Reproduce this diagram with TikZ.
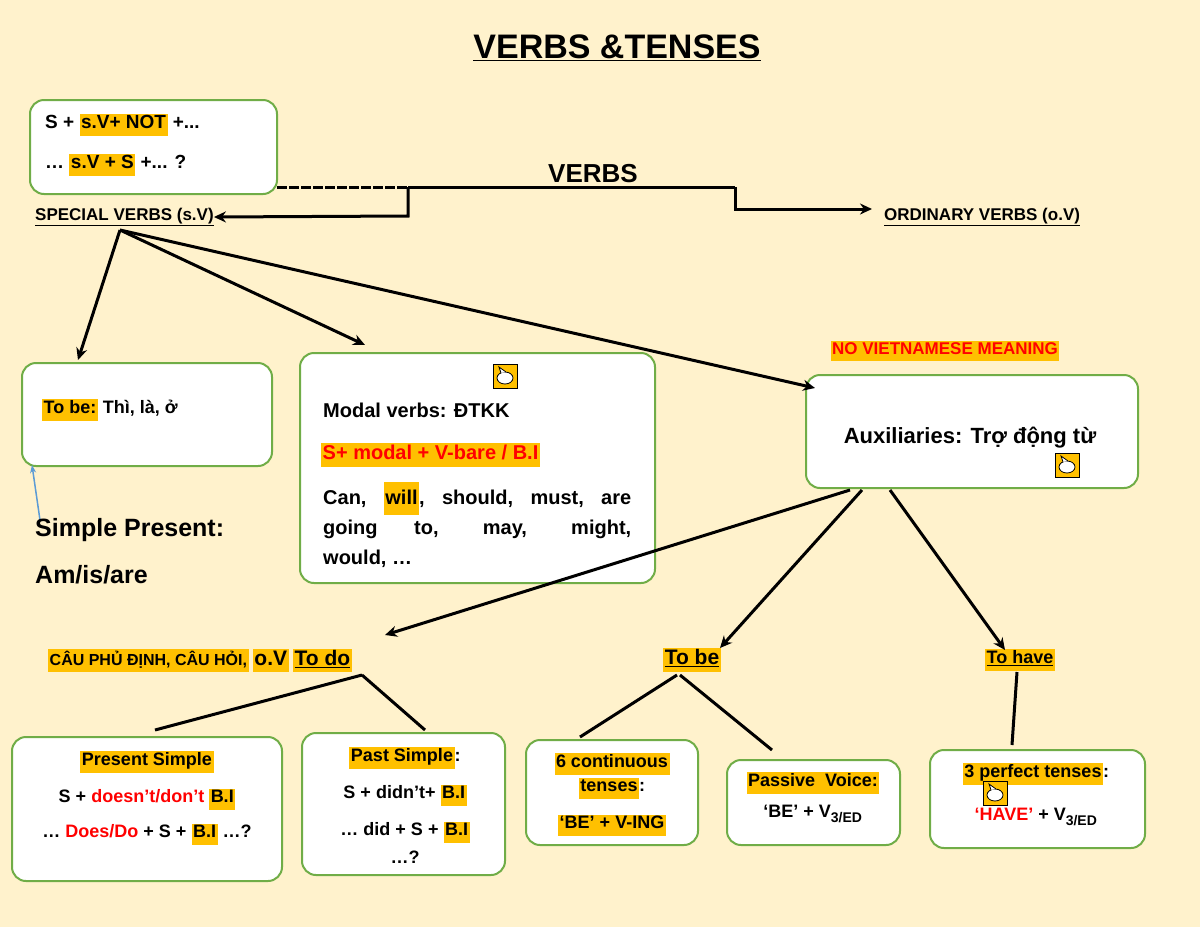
\documentclass[tikz,border=0pt]{standalone}
\usepackage{fontspec}
\setmainfont{Liberation Sans}
\usetikzlibrary{arrows.meta}
\definecolor{bg}{HTML}{FFF2CC}
\definecolor{hl}{HTML}{FFC000}
\definecolor{gb}{HTML}{70AD47}
\definecolor{rd}{HTML}{FF0000}
\definecolor{lb}{HTML}{5B9BD5}
\newcommand\hlt[1]{{\setlength{\fboxsep}{1.5pt}\colorbox{hl}{\strut #1}}}
\newcommand\fs[1]{\fontsize{#1}{#1}\selectfont}
\tikzset{
 box/.style={draw=gb,line width=2pt,fill=white,rounded corners=14pt},
 ln/.style={line width=3pt},
 arr/.style={line width=3pt,-{Stealth[length=12pt,width=11pt]}},
 txt/.style={inner sep=0pt,font=\bfseries\fs{18}},
 icon/.pic={\draw[fill=hl,line width=0.8pt] (-12,-12) rectangle (12,12);
  \draw[fill=white,line width=0.8pt] (0,2) ellipse (8pt and 6pt);
  \draw[fill=white,line width=0.8pt] (-4,-3)--(-6,-9)--(1,-4);}
}
\begin{document}
\begin{tikzpicture}[x=1pt,y=-1pt]
\fill[bg] (0,0) rectangle (1200,927);
\useasboundingbox (0,0) rectangle (1200,927);
\node[txt,font=\bfseries\fs{34}] (title) at (617,48) {\underline{VERBS \&TENSES}};
% top box
\draw[box] (30,100) rectangle (277,194);
\node[txt,anchor=west,font=\bfseries\fs{19}] (b1a) at (45,125) {S + \hlt{s.V+ NOT} +...};
\node[txt,anchor=west,font=\bfseries\fs{19}] (b1b) at (45,165) {\ldots\ \hlt{s.V + S} +... ?};
\node[txt,font=\bfseries\fs{26}] (verbs) at (593,174) {VERBS};
\coordinate (c0) at (277,187);
\coordinate (c1) at (408,187);
\coordinate (c2) at (735,187);
\draw[line width=3pt,dash pattern=on 10pt off 2pt] (c0)--(c1);
\draw[line width=3pt] (c1)--(c2);
\node[txt,font=\bfseries\fs{17},anchor=west] (sv) at (35,217) {\underline{SPECIAL VERBS (s.V)}};
\node[txt,font=\bfseries\fs{17},anchor=west] (ov) at (884,217) {\underline{ORDINARY VERBS (o.V)}};
\draw[arr] (c1)--(408,216)--(sv.east);
\draw[arr] (c2)--(735,209)--(872,209);
% level 2
\draw[box] (22,363) rectangle (272,466);
\node[txt,anchor=west] (tobe) at (42,410) {\hlt{To be:} Thì, là, ở};
\draw[box] (300,353) rectangle (655,583);
\pic at (505,376) {icon};
\node[txt,anchor=west,font=\bfseries\fs{20}] (mv) at (323,410) {Modal verbs: ĐTKK};
\node[txt,anchor=west,font=\bfseries\fs{20},text=rd] (mf) at (321,455) {\hlt{S+ modal + V-bare / B.I}};
\node[txt,anchor=north west,font=\bfseries\fontsize{20}{30}\selectfont,text width=308pt,align=justify] (mlist) at (323,482)
 {Can, \hlt{will}, should, must, are\linebreak going to, may, might,\linebreak would, \ldots};
\node[txt,font=\bfseries\fs{17}] (nvm) at (945,351) {\hlt{\textcolor{rd}{NO VIETNAMESE MEANING}}};
\draw[box] (806,375) rectangle (1138,488);
\node[txt,font=\bfseries\fs{22}] (aux) at (970,438) {Auxiliaries: Trợ động từ};
\pic at (1067,465) {icon};
\draw[arr] (120,230)--(78,360);
\draw[arr] (120,230)--(365,345);
\draw[arr] (120,230)--(815,388);
\draw[line width=1.5pt,lb,-{Stealth[length=8pt]}] (40,520)--(32,465);
\node[txt,anchor=west,font=\bfseries\fs{25}] (sp) at (35,530) {Simple Present:};
\node[txt,anchor=west,font=\bfseries\fs{25}] (am) at (35,575) {Am/is/are};
% level 3
\node[txt,font=\bfseries\fs{16},anchor=west] (todo) at (48,660) {\hlt{CÂU PHỦ ĐỊNH, CÂU HỎI,} \hlt{\fs{21}o.V} \hlt{\fs{21}\underline{To do}}};
\node[txt,font=\bfseries\fs{21}] (tb) at (692,660) {\hlt{\underline{To be}}};
\node[txt,font=\bfseries\fs{18}] (th) at (1020,660) {\hlt{\underline{To have}}};
\draw[arr] (850,490)--(385,635);
\draw[arr] (862,490)--(720,648);
\draw[arr] (890,490)--(1005,650);
% bottom boxes
\draw[box] (12,737) rectangle (282,881);
\draw[box] (302,733) rectangle (505,875);
\draw[box] (526,740) rectangle (698,845);
\draw[box] (727,760) rectangle (900,845);
\draw[box] (930,750) rectangle (1145,848);
\draw[ln] (362,675)--(155,730);
\draw[ln] (362,675)--(425,730);
\draw[ln] (677,675)--(580,737);
\draw[ln] (680,675)--(772,750);
\draw[ln] (1017,672)--(1012,745);
\node[txt] (ps) at (147,762) {\hlt{Present Simple}};
\node[txt] (ps1) at (147,799) {S + \textcolor{rd}{doesn’t/don’t} \hlt{B.I}};
\node[txt] (ps2) at (147,834) {\ldots\ \textcolor{rd}{Does/Do} + S + \hlt{B.I} \ldots?};
\node[txt] (pa) at (405,758) {\hlt{Past Simple}:};
\node[txt] (pa1) at (405,795) {S + didn’t+ \hlt{B.I}};
\node[txt] (pa2) at (405,832) {\ldots\ did + S + \hlt{B.I}};
\node[txt] (pa3) at (405,857) {\ldots?};
\node[txt] (cn) at (612,764) {\hlt{6 continuous}};
\node[txt] (cn1) at (612,788) {\hlt{tenses}:};
\node[txt] (cn2) at (612,825) {\hlt{‘BE’ + V-ING}};
\node[txt] (pv) at (813,783) {\hlt{Passive\ \ Voice:}};
\node[txt] (pv1) at (813,814) {‘BE’ + V\textsubscript{\fs{14}3/ED}};
\node[txt] (pf) at (1036,774) {\hlt{3 perfect tenses}:};
\pic at (995,793) {icon};
\node[txt] (pf1) at (1036,817) {\textcolor{rd}{‘HAVE’} + V\textsubscript{\fs{14}3/ED}};
\end{tikzpicture}
\end{document}
